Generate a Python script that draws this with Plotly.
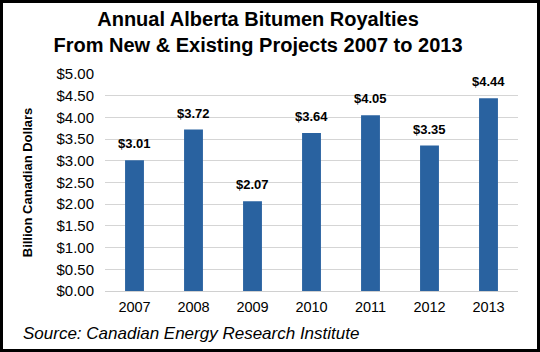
import plotly.graph_objects as go

years = ["2007", "2008", "2009", "2010", "2011", "2012", "2013"]
royalties = [3.01, 3.72, 2.07, 3.64, 4.05, 3.35, 4.44]
labels = ["$%.2f" % v for v in royalties]
tick_vals = [0, 0.5, 1, 1.5, 2, 2.5, 3, 3.5, 4, 4.5, 5]
tick_text = ["$%.2f" % v for v in tick_vals]

W, H = 540, 352
L, R, T, B = 105, 22, 74, 61
pw, ph = W - L - R, H - T - B

fig = go.Figure()
fig.add_trace(go.Bar(
    x=years, y=royalties,
    marker=dict(color="#2962A0", line=dict(width=0)),
))

# category axis: annotation x given as category index
for i, (v, lab) in enumerate(zip(royalties, labels)):
    fig.add_annotation(
        x=i, y=v, text=lab, showarrow=False, xanchor="center",
        yanchor="bottom", yshift=7,
        font=dict(family="Arial", size=13, color="black", weight="bold"),
    )

def px2x(p):
    return (p - L) / pw

def py2y(p):
    return 1 - (p - T) / ph

fig.update_layout(
    width=W, height=H,
    margin=dict(l=L, r=R, t=T, b=B),
    paper_bgcolor="white", plot_bgcolor="white",
    bargap=0.68,
    showlegend=False,
    font=dict(family="Arial", color="black"),
    title=dict(
        text="Annual Alberta Bitumen Royalties<br>From New & Existing Projects 2007 to 2013",
        x=258 / W, xref="container", xanchor="center", y=1 - 26 / H, yanchor="middle",
        font=dict(family="Arial", size=20, color="black", weight="bold"),
    ),
    xaxis=dict(
        type="category", range=[-0.5, len(years) - 0.5],
        showgrid=False, showline=True, linecolor="#D0D0D0", linewidth=1,
        ticks="", tickfont=dict(family="Arial", size=14.5, color="black"),
        ticklabelstandoff=3,
    ),
    yaxis=dict(
        range=[0, 5], tickvals=tick_vals, ticktext=tick_text,
        showgrid=True, gridcolor="#D5D5D5", gridwidth=1,
        zeroline=False, showline=False, ticks="",
        tickfont=dict(family="Arial", size=15, color="black"),
        ticklabelstandoff=10,
        title=dict(text="Billion Canadian Dollars", standoff=20,
                   font=dict(family="Arial", size=13, color="black", weight="bold")),
    ),
)

fig.add_annotation(
    text="Source: Canadian Energy Research Institute",
    xref="paper", yref="paper", x=px2x(21), y=py2y(333),
    xanchor="left", yanchor="middle", showarrow=False,
    font=dict(family="Arial", size=17, color="black", style="italic"),
)

fig.add_shape(
    type="rect", xref="paper", yref="paper",
    x0=px2x(1.5), x1=px2x(W - 1.5), y0=py2y(H - 1.5), y1=py2y(1.5),
    line=dict(color="black", width=3), fillcolor="rgba(0,0,0,0)", layer="above",
)

fig.write_html("out.html")
